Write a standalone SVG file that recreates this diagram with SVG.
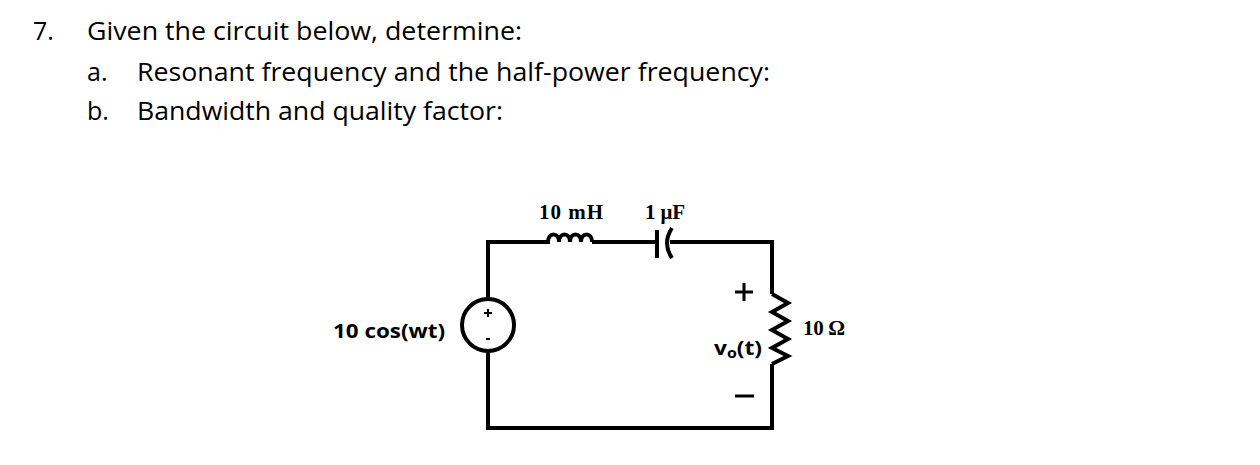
<svg xmlns="http://www.w3.org/2000/svg" width="1260" height="465" viewBox="0 0 1260 465">
<style>
.q{font-family:"Open Sans","Liberation Sans",sans-serif;font-size:25px;fill:#000}
.w{fill:none;stroke:#000;stroke-width:4;stroke-linejoin:miter}
.s{font-family:"Liberation Serif",serif;font-weight:bold;font-size:21px}
.b{font-family:"Open Sans","Liberation Sans",sans-serif;font-weight:bold;font-size:20px}
</style>
<rect width="1260" height="465" fill="#fff"/>
<text class="q" x="33" y="40">7.</text><text class="q" x="87" y="40" textLength="435" lengthAdjust="spacingAndGlyphs">Given the circuit below, determine:</text>
<text class="q" x="87" y="81">a.</text><text class="q" x="137" y="81" textLength="633" lengthAdjust="spacingAndGlyphs">Resonant frequency and the half-power frequency:</text>
<text class="q" x="87" y="120">b.</text><text class="q" x="137" y="120" textLength="366" lengthAdjust="spacingAndGlyphs">Bandwidth and quality factor:</text>
<g id="wires">
<path class="w" d="M488 299 V242 H550 M592 242 H656 M670 242 H772 V294 M772 364 V428 H488 V351"/>
</g>
<g id="source">
<circle cx="488" cy="325" r="26" class="w" stroke-width="3.5"/>
<path d="M484 313h8M488 309v8" stroke="#000" stroke-width="2"/>
<path d="M486 339h4" stroke="#000" stroke-width="2"/>
<text class="b" x="333" y="338" textLength="112" lengthAdjust="spacingAndGlyphs">10 cos(wt)</text>
</g>
<g id="inductor">
<path class="w" stroke-width="3" d="M548 242 c0-10 11-10 11 0 c0-10 11-10 11 0 c0-10 11-10 11 0 c0-10 11-10 11 0"/>
<text class="s" x="539" y="219" textLength="64">10 mH</text>
</g>
<g id="capacitor">
<path class="w" stroke-width="3.5" d="M657 230 V258 M672 228 Q662 243 672 258"/>
<text class="s" x="645" y="219" textLength="40">1 μF</text>
</g>
<g id="resistor">
<path class="w" stroke-width="3" d="M772 294 L788 303 L772 312 L788 321 L772 330 L788 339 L772 348 L788 356 L772 364"/>
<text class="s" x="803" y="335" textLength="42">10 Ω</text>
</g>
<g id="vo">
<path d="M735 292h18M744 283v18M735 396h19" stroke="#000" stroke-width="3"/>
<text class="b" x="714" y="355" textLength="48" lengthAdjust="spacingAndGlyphs">v<tspan font-size="14" dy="3">o</tspan><tspan dy="-3">(t)</tspan></text>
</g>
</svg>
